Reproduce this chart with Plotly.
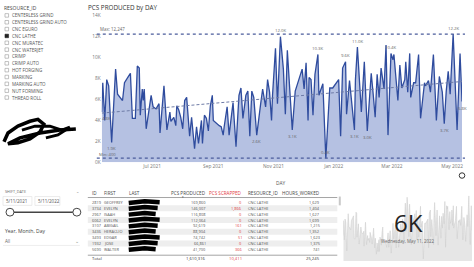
import plotly.graph_objects as go
import numpy as np
import pandas as pd

W, H = 474, 267


def px(x):
    return x / W


def py(y):
    return 1 - y / H


FONT = "Open Sans"

# ---------------- data: PCS PRODUCED by DAY (thousands) ----------------
START = "2021-05-11"
DAY_OFFSET = [0, 1, 3, 5, 7, 10, 14, 16, 21, 23, 27, 29, 31, 34, 36, 38, 39, 41, 42, 43,
              45, 48, 50, 52, 55, 58, 59, 63, 65, 66, 69, 70, 73, 75, 76, 78, 80, 82, 84, 86,
              89, 91, 94, 96, 98, 101, 102, 104, 106, 108, 110, 112, 113, 116, 119, 121, 123, 124, 127, 129,
              131, 133, 136, 139, 141, 143, 146, 148, 150, 152, 154, 157, 161, 163, 166, 168, 170, 172, 173, 176,
              178, 181, 184, 186, 188, 190, 193, 196, 200, 203, 205, 207, 209, 210, 212, 214, 216, 219, 220, 223,
              224, 227, 231, 234, 237, 240, 242, 244, 247, 248, 251, 253, 256, 257, 259, 263, 266, 269, 273, 275,
              277, 279, 281, 283, 286, 288, 290, 293, 295, 296, 300, 302, 304, 307, 308, 310, 312, 313, 316, 318,
              321, 323, 325, 327, 328, 331, 333, 336, 338, 339, 342, 343, 345, 347, 349, 351, 353, 356, 358, 360,
              363, 365]
PCS_K = [4.8, 7.6, 4.0, 7.9, 7.3, 1.9, 8.9, 6.5, 5.9, 7.6, 8.2, 8.5, 4.2, 4.2, 9.2, 9.0, 4.5, 7.0, 5.9, 7.0,
         3.2, 5.1, 6.4, 5.3, 5.1, 5.6, 2.8, 7.3, 4.3, 3.1, 4.8, 3.9, 4.3, 3.5, 5.4, 5.0, 4.3, 3.2, 5.9, 6.2,
         2.5, 4.3, 1.3, 3.4, 1.8, 4.0, 1.8, 4.5, 4.2, 3.0, 5.4, 6.4, 4.0, 3.7, 3.5, 3.4, 2.6, 3.4, 5.3, 2.6,
         4.0, 5.7, 1.5, 6.4, 7.1, 4.2, 6.4, 6.8, 2.5, 6.8, 6.2, 2.6, 5.6, 7.0, 5.3, 7.9, 6.7, 4.0, 6.4, 10.9,
         5.6, 12.0, 8.9, 4.6, 10.7, 7.9, 3.1, 6.8, 8.1, 8.9, 7.0, 9.5, 4.0, 8.1, 7.9, 4.5, 8.4, 10.3, 6.4, 7.3,
         7.5, 0.4, 7.1, 7.1, 7.5, 7.9, 2.5, 9.0, 9.6, 4.6, 7.8, 5.9, 3.1, 7.9, 11.0, 4.8, 9.6, 3.0, 8.5, 6.5,
         4.3, 8.4, 6.2, 9.0, 7.0, 11.2, 2.6, 10.4, 9.8, 10.3, 5.9, 9.3, 7.1, 7.9, 9.6, 6.7, 10.4, 6.2, 7.6, 7.6,
         10.3, 4.2, 6.2, 7.6, 7.3, 7.8, 6.7, 10.3, 6.2, 4.0, 8.2, 7.6, 6.7, 3.7, 6.8, 8.7, 6.5, 12.247, 7.0, 3.1,
         10.4, 5.8]
LABEL_DAYS = [0, 10, 157, 181, 193, 219, 227, 247, 256, 259, 269, 293, 347, 356, 365]
LABEL_POS = ["below", "below", "below", "above", "below", "above", "above", "above", "below", "above",
             "below", "above", "below", "above", "below"]
Y_TICKS = [0, 2000, 4000, 6000, 8000, 10000, 12000, 14000]
X_TICKS = ["2021-07-01", "2021-09-01", "2021-11-01", "2022-01-01", "2022-03-01", "2022-05-01"]

# ---------------- slicers ----------------
RESOURCES = ["CENTERLESS GRIND", "CENTERLESS GRIND AUTO", "CNC EGURO", "CNC LATHE", "CNC MURATEC",
             "CNC WATERJET", "CRIMP", "CRIMP AUTO", "HOT FORGING", "MARKING", "MARKING AUTO",
             "NUT FORMING", "THREAD ROLL"]
SELECTED = "CNC LATHE"
DATE_FROM, DATE_TO = "5/11/2021", "5/11/2022"

# ---------------- table ----------------
COLS = ["ID", "FIRST", "LAST", "PCS PRODUCED", "PCS SCRAPPED", "RESOURCE_ID", "HOURS_WORKED"]
T_ID = ["2819", "3734", "2967", "6062", "3107", "3436", "3493", "1932", "5690"]
T_FIRST = ["GEOFFREY", "EVELYN", "ISAAH", "EVELYN", "ABIGAIL", "HERACLIO", "EDGAR", "JOSE", "WALTER"]
T_PROD = [169860, 146007, 116808, 112064, 92619, 88904, 74742, 66861, 41700]
T_SCRAP = [0, 1866, 0, 0, 161, 0, 51, 0, 366]
T_RES = ["CNC LATHE"] * 9
T_HOURS = [1629, 1404, 1627, 1699, 1215, 1352, 1623, 1375, 741]
TOTALS = [1610316, 10411, 25245]

KPI_TEXT = "6K"
KPI_DATE = "Wednesday, May 11, 2022"

# ======================================================================
dates = pd.to_datetime(START) + pd.to_timedelta(DAY_OFFSET, unit="D")
pcs = np.array(PCS_K) * 1000

fig = go.Figure()

X0, X1 = 102, 463
fig.add_trace(go.Scatter(
    x=dates, y=pcs, mode="lines", line=dict(color="#2F4C9E", width=1.3),
    fill="tozeroy", fillcolor="#B5C1E2", hoverinfo="skip", showlegend=False,
    xaxis="x", yaxis="y"))

# trend line
coef = np.polyfit(DAY_OFFSET, pcs, 1)
tx = [DAY_OFFSET[0], DAY_OFFSET[-1]]
fig.add_trace(go.Scatter(
    x=pd.to_datetime(START) + pd.to_timedelta(tx, unit="D"),
    y=np.polyval(coef, tx), mode="lines",
    line=dict(color="#6E7BA6", width=1, dash="3px,2px"),
    hoverinfo="skip", showlegend=False, xaxis="x", yaxis="y"))

vmax, vmin = pcs.max(), pcs.min()
for v in (vmax, vmin):
    fig.add_shape(type="line", xref="paper", yref="y", x0=px(97), x1=px(466), y0=v, y1=v,
                  line=dict(color="#4B5C9C", width=1.3, dash="dot"))
fig.add_annotation(x=px(98), y=vmax, xref="paper", yref="y", text=f"Max: {vmax:,.0f}",
                   showarrow=False, xanchor="left", yanchor="bottom", yshift=0,
                   font=dict(size=4.4, color="#666", family=FONT))
fig.add_annotation(x=px(97), y=vmin, xref="paper", yref="y", text=f"Min: {vmin:,.0f}",
                   showarrow=False, xanchor="left", yanchor="bottom", yshift=-1,
                   font=dict(size=4.2, color="#666", family=FONT))

for d, pos in zip(LABEL_DAYS, LABEL_POS):
    i = DAY_OFFSET.index(d)
    v = pcs[i]
    fig.add_annotation(x=dates[i], y=v, xref="x", yref="y", text=f"{v/1000:.1f}K",
                       showarrow=False, yanchor="top" if pos == "below" else "bottom",
                       yshift=-1 if pos == "below" else 1.5,
                       xshift=5 if d == DAY_OFFSET[0] else 0,
                       font=dict(size=4.3, color="#666", family=FONT))

# ---- KPI sparkline background
fig.add_trace(go.Scatter(
    x=dates, y=pcs, mode="lines", line=dict(color="#D0D0D0", width=0.6),
    fill="tozeroy", fillcolor="#E6E6E6", hoverinfo="skip", showlegend=False,
    xaxis="x2", yaxis="y2"))

fig.update_layout(
    width=W, height=H, margin=dict(l=0, r=0, t=0, b=0),
    paper_bgcolor="white", plot_bgcolor="rgba(0,0,0,0)",
    font=dict(family=FONT, color="#666"),
    xaxis=dict(domain=[px(X0), px(X1)], range=[dates[0], dates[-1]], type="date",
               tickvals=X_TICKS, tickformat="%b %Y", showgrid=False, zeroline=False,
               showline=False, ticks="", tickfont=dict(size=4.8, color="#777", family=FONT),
               fixedrange=True),
    yaxis=dict(domain=[py(163), py(13)], range=[0, 14000], tickvals=Y_TICKS,
               ticktext=[f"{t//1000}K" for t in Y_TICKS], showgrid=False, zeroline=False,
               showline=False, ticks="", tickfont=dict(size=4.8, color="#777", family=FONT),
               fixedrange=True),
    xaxis2=dict(domain=[px(344), px(473)], range=[dates[0], dates[-1]], visible=False,
                anchor="y2"),
    yaxis2=dict(domain=[py(264), py(196)], range=[0, 12500], visible=False, anchor="x2"),
)

shapes = []
ann = []


def text(x, y, s, size=5, color="#555", anchor="left", bold=False, yanchor="middle"):
    ann.append(dict(x=px(x), y=py(y), xref="paper", yref="paper", text=s, showarrow=False,
                    xanchor=anchor, yanchor=yanchor,
                    font=dict(size=size, color=color, family=FONT), borderpad=0))


# ---------------- title & range slider ----------------
text(87, 5, "PCS PRODUCED by DAY", size=6.3, color="#333")
shapes.append(dict(type="line", xref="paper", yref="paper", x0=px(X0), x1=px(X1),
                   y0=py(176.5), y1=py(176.5), line=dict(color="#333", width=1.6)))
for cx in (X0, X1):
    shapes.append(dict(type="circle", xref="paper", yref="paper", x0=px(cx - 2.8), x1=px(cx + 2.8),
                       y0=py(176.5 + 2.8), y1=py(176.5 - 2.8), fillcolor="white",
                       line=dict(color="#333", width=1)))
text(282, 184, "DAY", size=4.8, color="#555", anchor="center")

# ---------------- resource slicer ----------------
text(3, 5, "RESOURCE_ID", size=5, color="#444")
for k, r in enumerate(RESOURCES):
    yy = 12.7 + k * 7.0
    shapes.append(dict(type="rect", xref="paper", yref="paper", x0=px(5), x1=px(8.6),
                       y0=py(yy + 1.8), y1=py(yy - 1.8),
                       fillcolor="#222" if r == SELECTED else "white",
                       line=dict(color="#999" if r != SELECTED else "#222", width=0.6)))
    text(11.5, yy, r, size=4.5, color="#555")

# scribble (redacted logo)
def path(pts):
    return "M " + " L ".join(f"{px(a):.5f},{py(b):.5f}" for a, b in pts)


shapes.append(dict(type="path", xref="paper", yref="paper",
                   path=path([(4, 142), (8, 133), (18, 126), (30, 121), (38, 119), (44, 124), (40, 132),
                              (30, 139), (18, 143), (8, 144), (20, 138), (40, 133), (60, 130), (76, 129)]),
                   line=dict(color="black", width=3.5)))
shapes.append(dict(type="path", xref="paper", yref="paper",
                   path=path([(22, 130), (35, 126), (50, 126), (62, 130), (70, 127), (58, 135), (46, 138)]),
                   line=dict(color="black", width=3)))

# ---------------- date slicer ----------------
text(4, 192.5, "SHIFT_DATE", size=3.8, color="#666")
text(78, 192.5, "⌄", size=4, color="#888", anchor="center")
for (x0, x1), s in zip([(3, 32), (35, 60)], [DATE_FROM, DATE_TO]):
    shapes.append(dict(type="rect", xref="paper", yref="paper", x0=px(x0), x1=px(x1),
                       y0=py(207), y1=py(198), line=dict(color="#ddd", width=0.6)))
    text(x0 + 2.5, 202.5, s, size=4.5, color="#555")
shapes.append(dict(type="line", xref="paper", yref="paper", x0=px(10), x1=px(77),
                   y0=py(214), y1=py(214), line=dict(color="#444", width=1.5)))
for cx in (10, 77):
    shapes.append(dict(type="circle", xref="paper", yref="paper", x0=px(cx - 4), x1=px(cx + 4),
                       y0=py(218), y1=py(210), fillcolor="white", line=dict(color="#444", width=1)))
text(4, 233, "Year, Month, Day", size=5, color="#444")
text(4, 243, "All", size=4.5, color="#666")
text(77, 243, "⌄", size=5, color="#888", anchor="center")
shapes.append(dict(type="line", xref="paper", yref="paper", x0=px(3), x1=px(80),
                   y0=py(248), y1=py(248), line=dict(color="#e2e2e2", width=0.6)))

# ---------------- table ----------------
HDR_Y = 194
ROW_Y0, ROW_H = 204, 6.0
TOTAL_Y = 261
col_x = [91, 103, 128, 207, 244, 248, 322]
col_anchor = ["left", "left", "left", "right", "right", "left", "right"]
for k in range(len(T_ID)):
    yy = ROW_Y0 + k * ROW_H
    if k % 2 == 1:
        shapes.append(dict(type="rect", xref="paper", yref="paper", x0=px(88), x1=px(338),
                           y0=py(yy + ROW_H / 2), y1=py(yy - ROW_H / 2), fillcolor="#EEEEEE",
                           line=dict(width=0), layer="below"))
shapes.append(dict(type="line", xref="paper", yref="paper", x0=px(88), x1=px(338),
                   y0=py(199), y1=py(199), line=dict(color="#666", width=0.6)))
shapes.append(dict(type="line", xref="paper", yref="paper", x0=px(88), x1=px(338),
                   y0=py(TOTAL_Y - 3), y1=py(TOTAL_Y - 3), line=dict(color="#666", width=0.6)))
for c, (name, x, a) in enumerate(zip(COLS, col_x, col_anchor)):
    text(x, HDR_Y, name, size=4.6, color="#E0393E" if name == "PCS SCRAPPED" else "#444", anchor=a)
text(207 - 24, 198, "▾", size=3, color="#444", anchor="center")
for k in range(len(T_ID)):
    yy = ROW_Y0 + k * ROW_H
    vals = [T_ID[k], T_FIRST[k], "", f"{T_PROD[k]:,}", f"{T_SCRAP[k]:,}", T_RES[k], f"{T_HOURS[k]:,}"]
    for c, (s, x, a) in enumerate(zip(vals, col_x, col_anchor)):
        if s:
            text(x, yy, s, size=3.9, color="#E0393E" if c == 4 else "#555", anchor=a)
    # redaction stroke over LAST column
    shapes.append(dict(type="path", xref="paper", yref="paper",
                       path=path([(129, yy + 0.5), (145, yy - 1.2), (160 - (k % 3) * 2, yy - 0.2)]),
                       line=dict(color="black", width=4.5)))
text(91, TOTAL_Y, "Total", size=4.2, color="#333")
text(207, TOTAL_Y, f"{TOTALS[0]:,}", size=4.2, color="#333", anchor="right")
text(244, TOTAL_Y, f"{TOTALS[1]:,}", size=4.2, color="#E0393E", anchor="right")
text(322, TOTAL_Y, f"{TOTALS[2]:,}", size=4.2, color="#333", anchor="right")
# scrollbar
shapes.append(dict(type="rect", xref="paper", yref="paper", x0=px(339.5), x1=px(341.5),
                   y0=py(207), y1=py(198), fillcolor="#C8C8C8", line=dict(width=0)))

# ---------------- KPI card ----------------
text(409, 225, KPI_TEXT, size=24, color="#252423", anchor="center")
text(409, 243, KPI_DATE, size=4.4, color="#666", anchor="center")

fig.update_layout(shapes=shapes, annotations=list(fig.layout.annotations) + ann)
fig.write_html("out.html")
